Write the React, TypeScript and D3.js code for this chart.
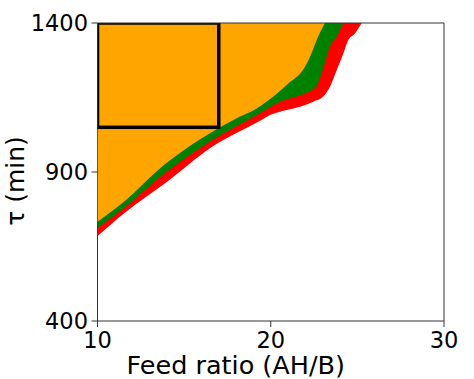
import React from "react";
import * as d3 from "d3";

const W = 474;
const H = 379;

// Boundary (feed ratio, tau) of each region
const redFeed = [10, 11.65, 13.9, 16.49, 19.49, 19.96, 20.53, 20.92, 21.69, 22.46, 23.03, 23.42, 23.81, 24.19, 24.48, 24.86, 25.25];
const redTau = [685, 767, 862, 980, 1075, 1091, 1102, 1108, 1119, 1136, 1153, 1186, 1242, 1298, 1343, 1365, 1400];

const greenFeed = [10, 11.65, 13.7, 16.49, 19.38, 20.53, 21.28, 22.07, 22.65, 22.94, 23.23, 23.42, 23.81, 24.19];
const greenTau = [712, 784, 887, 1002, 1097, 1136, 1150, 1166, 1188, 1232, 1287, 1320, 1354, 1400];

const orangeFeed = [10, 11.65, 13.5, 16.49, 18.22, 19.09, 20.53, 21.11, 21.69, 21.98, 22.36, 22.65, 23.13];
const orangeTau = [733, 806, 907, 1030, 1086, 1110, 1172, 1202, 1230, 1253, 1299, 1343, 1400];

// Highlighted window
const boxFeed = [10, 17];
const boxTau = [1050, 1400];

const xTicks = [10, 20, 30];
const yTicks = [400, 900, 1400];

const xLabel = "Feed ratio (AH/B)";
const yLabel = "τ (min)";

const regions = [
  { name: "red", feed: redFeed, tau: redTau, color: "#ff0000" },
  { name: "green", feed: greenFeed, tau: greenTau, color: "#008000" },
  { name: "orange", feed: orangeFeed, tau: orangeTau, color: "#ffa500" },
];

export default function App() {
  const left = 97.5, right = 444, top = 23, bottom = 321;
  const x = d3.scaleLinear().domain([10, 30]).range([left, right]);
  const y = d3.scaleLinear().domain([400, 1400]).range([bottom, top]);

  const area = d3
    .area<[number, number]>()
    .x((d) => x(d[0]))
    .y0(() => y(1400))
    .y1((d) => y(d[1]))
    .curve(d3.curveMonotoneX);

  const font = "DejaVu Sans, sans-serif";
  const spine = "#333";

  return (
    <svg
      width={W}
      height={H}
      style={{ position: "absolute", left: 0, top: 0, background: "#fff" }}
      fontFamily={font}
    >
      <defs>
        <clipPath id="plotClip">
          <rect x={left} y={top} width={right - left} height={bottom - top} />
        </clipPath>
      </defs>
      <rect x={0} y={0} width={W} height={H} fill="#fff" />
      {/* spines */}
      <line x1={left} x2={left} y1={top} y2={bottom} stroke={spine} strokeWidth={1} />
      <line x1={right} x2={right} y1={top} y2={bottom} stroke={spine} strokeWidth={1} />
      <line x1={left} x2={right} y1={bottom} y2={bottom} stroke={spine} strokeWidth={1} />
      <g clipPath="url(#plotClip)">
        {regions.map((r) => (
          <path
            key={r.name}
            d={area(r.feed.map((f, i) => [f, r.tau[i]] as [number, number])) || ""}
            fill={r.color}
          />
        ))}
        <rect
          x={x(boxFeed[0])}
          y={y(boxTau[1])}
          width={x(boxFeed[1]) - x(boxFeed[0])}
          height={y(boxTau[0]) - y(boxTau[1])}
          fill="none"
          stroke="#000"
          strokeWidth={3.5}
        />
      </g>
      <line x1={left} x2={right} y1={top} y2={top} stroke={spine} strokeWidth={1} />
      {/* x ticks */}
      {xTicks.map((t) => (
        <g key={"x" + t}>
          <line x1={x(t)} x2={x(t)} y1={bottom} y2={bottom + 6} stroke={spine} strokeWidth={1} />
          <text x={x(t)} y={348} textAnchor="middle" fontSize={22.5} fill="#000">
            {t}
          </text>
        </g>
      ))}
      {/* y ticks */}
      {yTicks.map((t) => (
        <g key={"y" + t}>
          <line x1={left - 6} x2={left} y1={y(t)} y2={y(t)} stroke={spine} strokeWidth={1} />
          <text
            x={left - 9.5}
            y={y(t)}
            dy="0.36em"
            textAnchor="end"
            fontSize={22.5}
            fill="#000"
          >
            {t}
          </text>
        </g>
      ))}
      <text x={(left + right) / 2 - 35} y={374} textAnchor="middle" fontSize={25.5} fill="#000">
        {xLabel}
      </text>
      <text
        transform={`translate(24,${181}) rotate(-90)`}
        textAnchor="middle"
        fontSize={25}
        fill="#000"
      >
        {yLabel}
      </text>
    </svg>
  );
}
